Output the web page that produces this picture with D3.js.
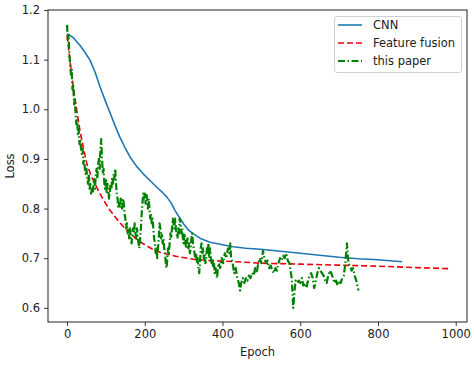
<!DOCTYPE html>
<html>
<head>
<meta charset="utf-8">
<script src="https://cdn.jsdelivr.net/npm/d3@7"></script>
<style>
	html, body { margin: 0; padding: 0; background: #fff; }
	svg { display: block; font-family: "DejaVu Sans", sans-serif; }
</style>
</head>
<body>
<svg id="chart" width="474" height="387"></svg>
<script>
// Values
const xTicks = [0, 200, 400, 600, 800, 1000];
const yTicks = [0.6, 0.7, 0.8, 0.9, 1.0, 1.1, 1.2];
const seriesNames = ["CNN", "Feature fusion", "this paper"];

const cnnLoss = [
	[0, 1.152], [15, 1.145], [33, 1.129], [45, 1.116], [59, 1.099], [72, 1.075], [85, 1.045],
	[98, 1.018], [111, 0.992], [124, 0.966], [136, 0.944], [149, 0.923], [162, 0.904],
	[179, 0.885], [196, 0.870], [214, 0.856], [231, 0.843], [245, 0.833], [257, 0.823],
	[268, 0.811], [278, 0.796], [290, 0.781], [300, 0.769], [312, 0.757], [325, 0.749],
	[345, 0.739], [368, 0.732], [400, 0.727], [428, 0.723], [460, 0.720], [497, 0.718],
	[550, 0.714], [600, 0.710], [650, 0.706], [700, 0.702], [750, 0.699], [800, 0.697], [862, 0.693]
];

const fusionLoss = [
	[0, 1.148], [8, 1.095], [16, 1.045], [25, 0.998], [33, 0.958], [42, 0.922], [51, 0.890],
	[63, 0.864], [76, 0.843], [93, 0.818], [111, 0.796], [132, 0.775], [154, 0.756],
	[175, 0.741], [196, 0.729], [218, 0.719], [239, 0.712], [280, 0.704], [325, 0.698],
	[370, 0.695], [411, 0.694], [455, 0.692], [497, 0.690], [600, 0.688], [700, 0.686],
	[800, 0.684], [900, 0.681], [981, 0.679]
];

const paperLoss = [
	[0, 1.17], [2, 1.14], [4, 1.15], [6, 1.11], [8, 1.09], [10, 1.07], [12, 1.08], [14, 1.04],
	[16, 1.05], [18, 1.01], [20, 1.02], [22, 0.99], [24, 0.97], [26, 0.98], [28, 0.95], [30, 0.96],
	[32, 0.93], [34, 0.94], [36, 0.92], [38, 0.91], [40, 0.92], [42, 0.89], [44, 0.90], [46, 0.88],
	[48, 0.87], [50, 0.88], [52, 0.86], [54, 0.85], [56, 0.87], [58, 0.84], [60, 0.85], [62, 0.83],
	[64, 0.84], [66, 0.83], [68, 0.85], [70, 0.86], [72, 0.84], [74, 0.87], [76, 0.88], [78, 0.86],
	[80, 0.89], [82, 0.90], [84, 0.88], [86, 0.92], [88, 0.94], [90, 0.90], [92, 0.87], [94, 0.88],
	[96, 0.85], [98, 0.84], [100, 0.86], [102, 0.83], [104, 0.85], [106, 0.84], [108, 0.82],
	[110, 0.83], [112, 0.85], [114, 0.84], [116, 0.86], [118, 0.85], [120, 0.87], [122, 0.86],
	[124, 0.88], [126, 0.85], [128, 0.83], [130, 0.82], [132, 0.80], [134, 0.81], [136, 0.80],
	[138, 0.82], [140, 0.81], [142, 0.80], [144, 0.82], [146, 0.81], [148, 0.79], [150, 0.78],
	[152, 0.76], [154, 0.77], [156, 0.75], [158, 0.76], [160, 0.74], [162, 0.76], [164, 0.74],
	[166, 0.73], [168, 0.75], [170, 0.76], [172, 0.75], [174, 0.77], [176, 0.75], [178, 0.74],
	[180, 0.76], [182, 0.74], [184, 0.73], [186, 0.72], [188, 0.74], [190, 0.76], [192, 0.79],
	[194, 0.81], [196, 0.83], [198, 0.82], [200, 0.83], [202, 0.81], [204, 0.83], [206, 0.82],
	[208, 0.80], [210, 0.82], [212, 0.80], [214, 0.78], [216, 0.79], [218, 0.77], [220, 0.78],
	[222, 0.76], [224, 0.74], [226, 0.73], [228, 0.71], [230, 0.72], [232, 0.70], [234, 0.72],
	[236, 0.74], [238, 0.77], [240, 0.76], [242, 0.74], [244, 0.75], [246, 0.73], [248, 0.74],
	[250, 0.72], [252, 0.71], [254, 0.69], [256, 0.68], [258, 0.70], [260, 0.72], [262, 0.71],
	[264, 0.73], [266, 0.75], [268, 0.74], [270, 0.76], [272, 0.78], [274, 0.77], [276, 0.76],
	[278, 0.78], [280, 0.76], [282, 0.75], [284, 0.74], [286, 0.76], [288, 0.75], [290, 0.78],
	[292, 0.77], [294, 0.75], [296, 0.76], [298, 0.74], [300, 0.73], [302, 0.75], [304, 0.74],
	[306, 0.72], [308, 0.73], [310, 0.74], [312, 0.72], [314, 0.73], [316, 0.71], [318, 0.72],
	[320, 0.74], [322, 0.75], [324, 0.73], [326, 0.72], [328, 0.71], [330, 0.70], [332, 0.71],
	[334, 0.69], [336, 0.70], [338, 0.68], [340, 0.67], [342, 0.69], [344, 0.72], [346, 0.73],
	[348, 0.71], [350, 0.72], [352, 0.70], [354, 0.71], [356, 0.69], [358, 0.70], [360, 0.72],
	[362, 0.71], [364, 0.73], [366, 0.70], [368, 0.72], [370, 0.70], [372, 0.69], [374, 0.70],
	[376, 0.68], [378, 0.69], [380, 0.67], [382, 0.68], [384, 0.67], [386, 0.66], [388, 0.68],
	[390, 0.69], [394, 0.68], [398, 0.70], [402, 0.69], [406, 0.71], [410, 0.70], [414, 0.72],
	[418, 0.71], [420, 0.73], [422, 0.70], [426, 0.69], [430, 0.67], [434, 0.68], [438, 0.66],
	[442, 0.65], [445, 0.635], [448, 0.65], [452, 0.66], [456, 0.65], [460, 0.66], [464, 0.655],
	[468, 0.665], [472, 0.66], [476, 0.67], [480, 0.665], [484, 0.68], [488, 0.67], [492, 0.69],
	[496, 0.70], [500, 0.69], [504, 0.715], [508, 0.70], [512, 0.69], [516, 0.695], [520, 0.68],
	[524, 0.685], [528, 0.675], [532, 0.67], [536, 0.68], [540, 0.675], [544, 0.69], [548, 0.70],
	[552, 0.695], [556, 0.705], [560, 0.70], [564, 0.71], [568, 0.695], [572, 0.69], [576, 0.67],
	[578, 0.66], [580, 0.63], [582, 0.60], [584, 0.62], [586, 0.64], [588, 0.655], [592, 0.65],
	[596, 0.655], [600, 0.65], [604, 0.66], [608, 0.645], [612, 0.65], [616, 0.64], [620, 0.655],
	[624, 0.665], [628, 0.67], [632, 0.66], [636, 0.64], [640, 0.655], [644, 0.67], [648, 0.68],
	[652, 0.675], [656, 0.67], [660, 0.665], [664, 0.655], [668, 0.65], [672, 0.665], [676, 0.675],
	[680, 0.67], [684, 0.66], [688, 0.65], [692, 0.655], [696, 0.645], [700, 0.655], [704, 0.65],
	[708, 0.66], [712, 0.665], [716, 0.69], [718, 0.71], [720, 0.73], [722, 0.71], [724, 0.69],
	[728, 0.685], [732, 0.675], [736, 0.68], [740, 0.665], [744, 0.655], [748, 0.64], [750, 0.635]
];


function drawLossChart(svgElement) {
	const svg = d3.select(svgElement);

	// Axes box, in pixels
	const plot = { left: 48, right: 467, top: 10, bottom: 322 };
	const fontSize = "11.5px";

	const x = d3.scaleLinear().domain([-49, 1029]).range([plot.left, plot.right]);
	const y = d3.scaleLinear().domain([0.5715, 1.2]).range([plot.bottom, plot.top]);

	const series = [
		{ name: seriesNames[0], values: cnnLoss, color: "#1f77b4", width: 1.6, dash: null },
		{ name: seriesNames[1], values: fusionLoss, color: "#e8000b", width: 1.6, dash: "6,3" },
		{ name: seriesNames[2], values: paperLoss, color: "#008000", width: 2.2, dash: "7,2.5,1.5,2.5" }
	];

	const line = d3.line()
		.x(d => x(d[0]))
		.y(d => y(d[1]));

	// Lines, drawn in legend order so the green one ends up on top
	svg.append("g")
		.attr("class", "lines")
		.selectAll("path")
		.data(series)
		.join("path")
		.attr("d", s => line(s.values))
		.attr("fill", "none")
		.attr("stroke", s => s.color)
		.attr("stroke-width", s => s.width)
		.attr("stroke-dasharray", s => s.dash)
		.attr("stroke-linejoin", "round");

	// Bottom axis
	const xAxis = svg.append("g")
		.attr("transform", `translate(0, ${plot.bottom})`)
		.call(d3.axisBottom(x).tickValues(xTicks).tickSize(4).tickPadding(4).tickFormat(d3.format("d")));

	// Left axis
	const yAxis = svg.append("g")
		.attr("transform", `translate(${plot.left}, 0)`)
		.call(d3.axisLeft(y).tickValues(yTicks).tickSize(4).tickPadding(4).tickFormat(d3.format(".1f")));

	for (const axis of [xAxis, yAxis]) {
		axis.select(".domain").remove();
		axis.selectAll(".tick line").attr("stroke", "#222").attr("stroke-width", 0.9);
		axis.selectAll(".tick text")
			.attr("fill", "#222")
			.style("font-family", "DejaVu Sans, sans-serif")
			.style("font-size", fontSize);
	}

	// Frame around the axes
	svg.append("rect")
		.attr("x", plot.left)
		.attr("y", plot.top)
		.attr("width", plot.right - plot.left)
		.attr("height", plot.bottom - plot.top)
		.attr("fill", "none")
		.attr("stroke", "#222")
		.attr("stroke-width", 1);

	// Axis titles
	svg.append("text")
		.attr("x", (plot.left + plot.right) / 2)
		.attr("y", 356)
		.attr("text-anchor", "middle")
		.attr("fill", "#222")
		.style("font-size", fontSize)
		.text("Epoch");

	svg.append("text")
		.attr("transform", `translate(14, ${(plot.top + plot.bottom) / 2}) rotate(-90)`)
		.attr("text-anchor", "middle")
		.attr("fill", "#222")
		.style("font-size", fontSize)
		.text("Loss");

	// Legend
	const legend = svg.append("g").attr("class", "legend");
	legend.append("rect")
		.attr("x", 334.5)
		.attr("y", 16.5)
		.attr("width", 127)
		.attr("height", 56)
		.attr("rx", 2.5)
		.attr("fill", "#fff")
		.attr("fill-opacity", 0.8)
		.attr("stroke", "#d0d0d0")
		.attr("stroke-width", 1);

	const entries = legend.selectAll("g.entry")
		.data(series)
		.join("g")
		.attr("class", "entry")
		.attr("transform", (s, i) => `translate(0, ${25 + i * 18})`);

	entries.append("line")
		.attr("x1", 338)
		.attr("x2", 362)
		.attr("stroke", s => s.color)
		.attr("stroke-width", s => s.width)
		.attr("stroke-dasharray", s => s.dash);

	entries.append("text")
		.attr("x", 373)
		.attr("dy", "0.35em")
		.attr("fill", "#222")
		.style("font-size", fontSize)
		.text(s => s.name);
}


drawLossChart(document.getElementById("chart"));
</script>
</body>
</html>
